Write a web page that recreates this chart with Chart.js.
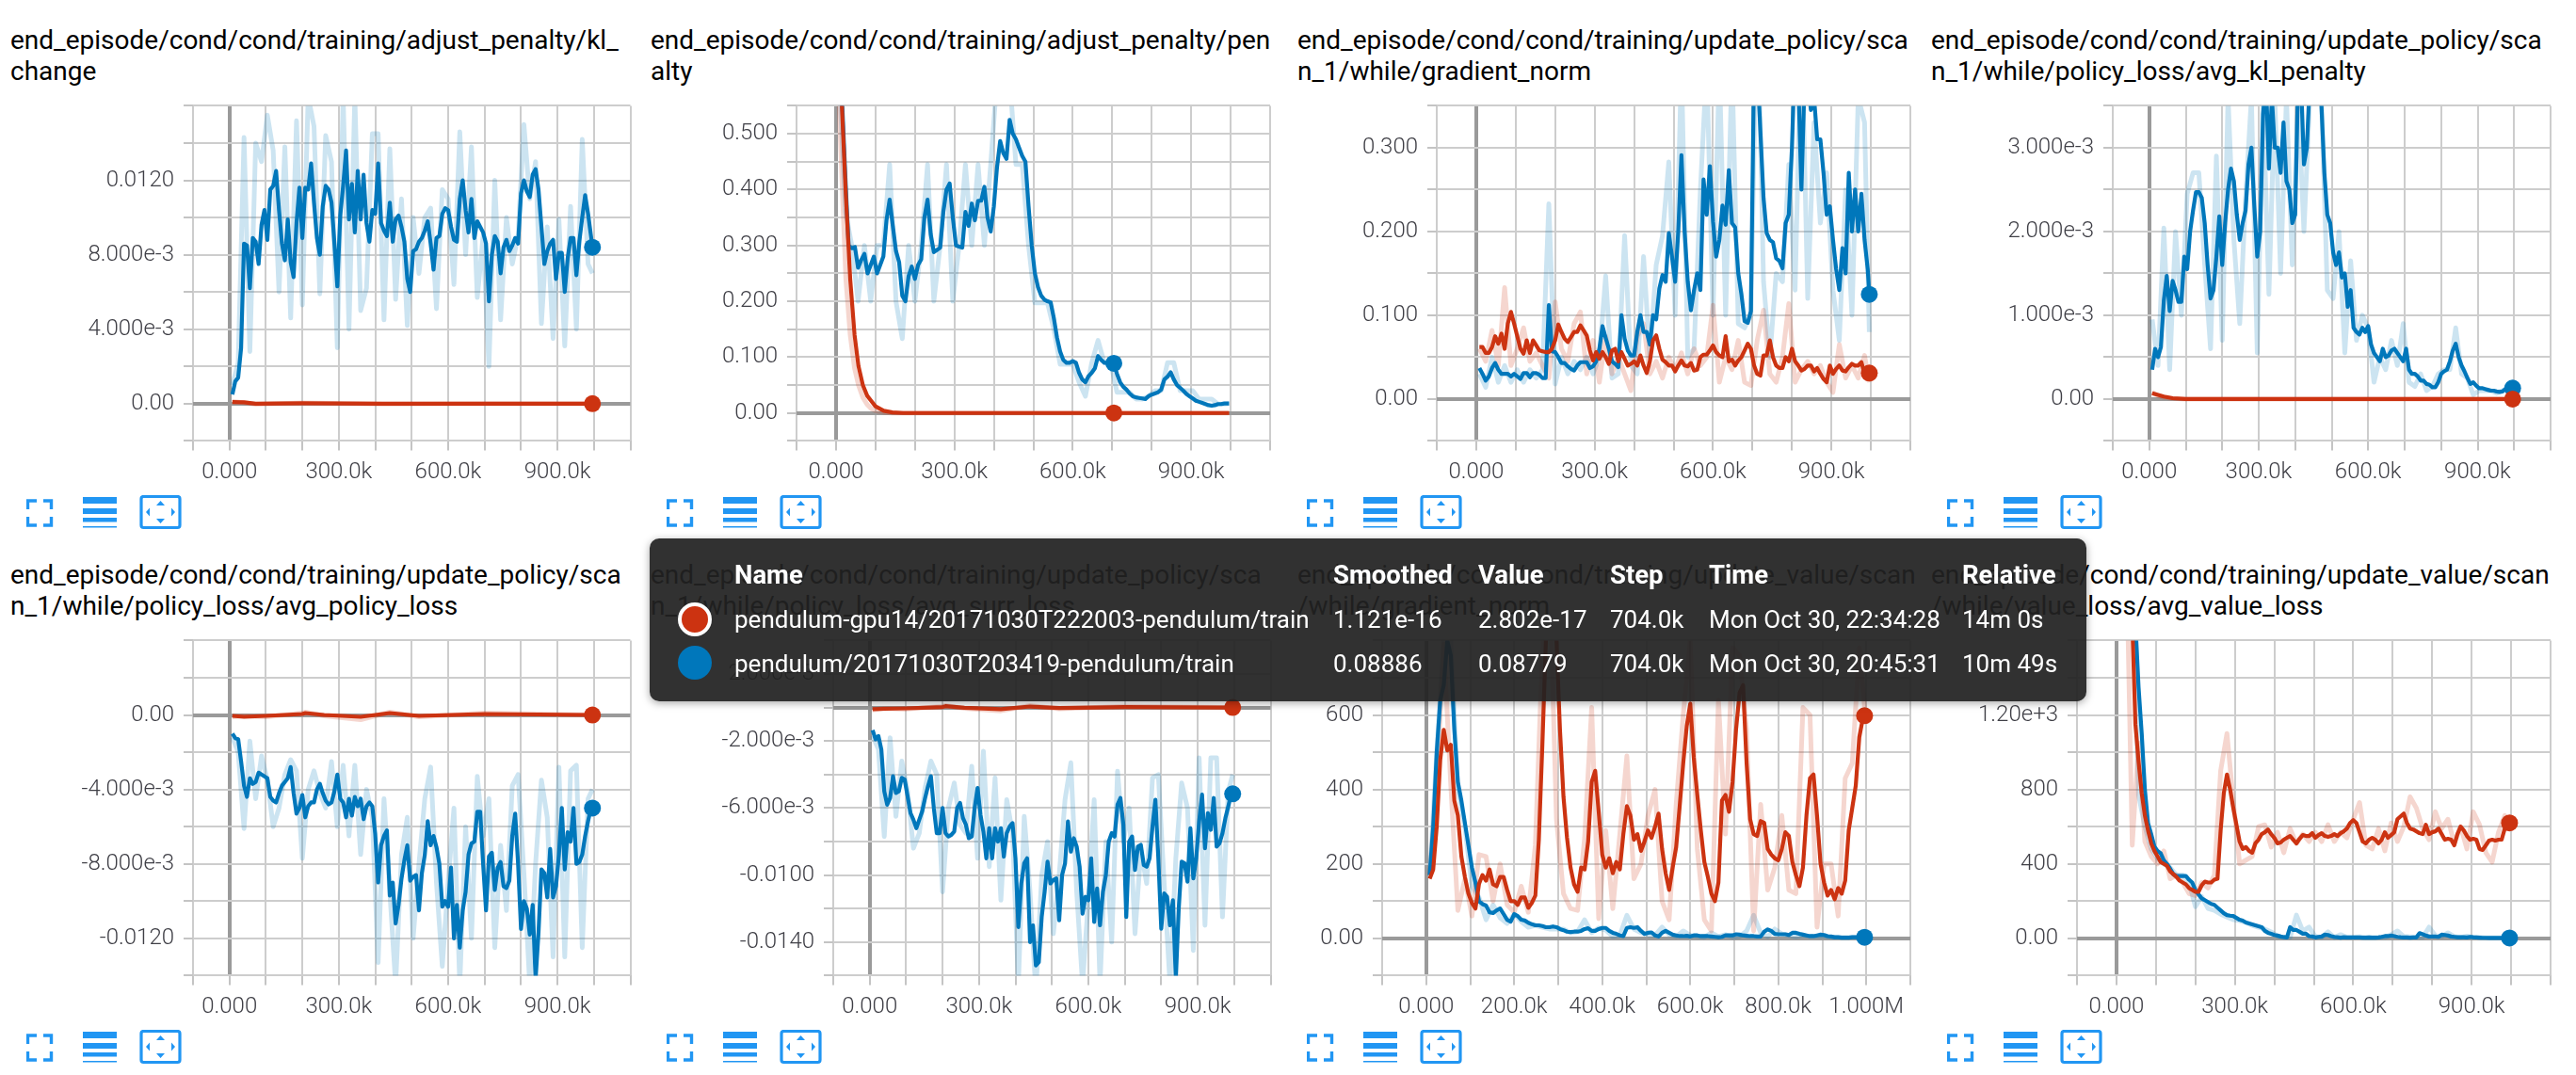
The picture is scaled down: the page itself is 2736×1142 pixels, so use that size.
<!DOCTYPE html>
<html>
<head>
<meta charset="utf-8">
<script src="https://cdn.jsdelivr.net/npm/chart.js@4"></script>
<style>
  html, body { margin: 0; background: #fff; }
  body { position: relative; width: 2736px; height: 1142px; overflow: hidden; font-family: Roboto, sans-serif; }
  canvas { position: absolute; }
  .titulo { position: absolute; font-size: 28px; line-height: 33px; color: #000; white-space: nowrap; }
  .icono { position: absolute; }
  #tip { position: absolute; left: 690px; top: 572px; width: 1526px; height: 173px; border-radius: 10px;
         background: rgba(33,33,33,.93); box-shadow: 0 2px 8px rgba(0,0,0,.35); color: #fff; font-size: 26px; }
  #tip span { position: absolute; white-space: nowrap; line-height: 32px; }
  #tip .cab { font-weight: 700; font-size: 27.5px; }
  #tip i { position: absolute; border-radius: 50%; box-sizing: border-box; }
</style>
</head>
<body>
<div id="tip"></div>
<script>
// ===== Datos =====
const steps = [
  8,16,24,32,40,48,56,64,72,80,88,96,104,112,120,128,136,144,152,160,168,176,184,192,200,
  208,216,224,232,240,248,256,264,272,280,288,296,304,312,320,328,336,344,352,360,368,376,384,392,400,
  408,416,424,432,440,448,456,464,472,480,488,496,504,512,520,528,536,544,552,560,568,576,584,592,600,
  608,616,624,632,640,648,656,664,672,680,688,696,704,712,720,728,736,744,752,760,768,776,784,792,800,
  808,816,824,832,840,848,856,864,872,880,888,896,904,912,920,928,936,944,952,960,968,976,984,992,996
];
const rawSteps = [
  8,24,40,56,72,88,104,120,136,152,
  168,184,200,216,232,248,264,280,296,312,
  328,344,360,376,392,408,424,440,456,472,
  488,504,520,536,552,568,584,600,616,632,
  648,664,680,696,712,728,744,760,776,792,
  808,824,840,856,872,888,904,920,936,952,
  968,984,996
];

// kl_change (unidades de 1e-3)
const klSmoothBlue = [
  0.5,1.2,1.4,3.0,8.6,8.5,6.2,8.9,8.7,7.5,9.6,10.4,8.8,11.5,11.7,12.5,10.4,8.6,7.7,9.9,7.6,6.8,9.7,11.6,8.9,
  11.6,11.5,12.9,10.8,8.9,8.0,10.6,11.7,11.5,10.8,8.6,6.3,10.1,11.7,13.6,9.9,11.8,9.2,12.5,9.9,12.3,9.7,8.7,10.4,10.2,
  12.9,9.7,9.3,9.0,10.8,8.7,9.9,10.1,9.5,8.7,6.7,6.0,8.2,8.3,8.7,8.9,9.3,9.8,8.6,7.2,8.9,9.0,10.2,10.5,10.4,
  9.5,8.8,8.7,11.0,12.0,10.4,9.2,11.0,8.9,9.8,9.5,9.2,8.6,5.5,8.0,9.0,8.7,7.0,8.4,8.8,8.2,8.5,8.9,8.6,11.3,
  12.0,11.4,11.1,12.3,12.6,11.5,9.5,7.5,8.2,8.6,8.8,6.7,8.1,8.1,6.0,7.8,8.9,8.9,6.9,8.7,10.0,11.2,10.2,9.0,8.4
];
const klRawBlue = [
  1.0,2.2,14.3,2.8,14.0,13.0,15.5,13.6,6.0,13.8,
  4.6,15.2,5.3,16.5,14.9,5.9,14.4,13.0,3.0,16.5,
  4.0,16.5,5.0,6.2,14.5,14.5,4.5,13.7,5.6,11.0,
  4.2,10.0,7.0,10.0,10.5,5.1,11.5,11.0,6.4,14.6,
  8.0,13.8,5.7,9.0,2.0,12.0,4.5,10.0,7.5,9.0,
  15.0,11.0,13.0,4.3,9.5,3.5,9.9,3.1,10.6,4.0,
  14.2,7.5,7.0
];
const klStepsRed = [8,40,72,200,420,700,996];
const klSmoothRed = [0.09,0.07,0.0,0.02,0.0,0.0,0.0];
const klRawRed = [0.12,0.05,-0.03,0.04,-0.02,0.0,0.0];

// penalty
const penSmoothBlue = [
  0.65,0.55,0.42,0.30,0.295,0.297,0.26,0.274,0.285,0.25,0.265,0.28,0.25,0.265,0.28,0.345,0.382,0.335,0.29,0.27,0.21,0.2,0.245,0.262,0.24,
  0.265,0.275,0.35,0.382,0.32,0.288,0.292,0.296,0.36,0.40,0.411,0.35,0.3,0.298,0.296,0.36,0.335,0.375,0.345,0.38,0.38,0.405,0.35,0.325,0.37,
  0.44,0.487,0.465,0.455,0.525,0.50,0.49,0.475,0.46,0.45,0.37,0.30,0.25,0.225,0.21,0.203,0.2,0.198,0.17,0.135,0.11,0.095,0.09,0.09,0.093,
  0.09,0.072,0.06,0.055,0.066,0.072,0.08,0.102,0.095,0.09,0.09,0.088,0.089,0.07,0.055,0.047,0.042,0.035,0.03,0.028,0.027,0.026,0.025,0.03,0.033,
  0.035,0.037,0.042,0.06,0.065,0.073,0.06,0.05,0.045,0.04,0.034,0.03,0.026,0.022,0.02,0.018,0.016,0.014,0.013,0.014,0.016,0.016,0.017,0.017,0.017
];
const penRawBlue = [
  0.6,0.36,0.3,0.2,0.3,0.2,0.3,0.3,0.445,0.2,
  0.133,0.3,0.2,0.3,0.445,0.2,0.3,0.445,0.2,0.3,
  0.445,0.3,0.445,0.3,0.445,0.6,0.6,0.6,0.445,0.445,
  0.3,0.197,0.197,0.197,0.15,0.087,0.087,0.087,0.055,0.03,
  0.09,0.13,0.09,0.09,0.037,0.037,0.037,0.025,0.025,0.03,
  0.04,0.04,0.09,0.09,0.04,0.04,0.04,0.025,0.025,0.025,
  0.016,0.016,0.017
];
const penStepsRed = [8,15,25,36,47,57,68,79,89,100,121,143,170,704,996];
const penSmoothRed = [0.7,0.55,0.39,0.24,0.14,0.084,0.05,0.031,0.022,0.012,0.004,0.001,0,0,0];
const penRawRed = [0.55,0.42,0.24,0.14,0.08,0.05,0.028,0.015,0.008,0.004,0.001,0,0,0,0];

// gradient_norm (policy)
const gradSmoothBlue = [
  0.037,0.03,0.022,0.027,0.037,0.043,0.035,0.03,0.03,0.03,0.027,0.03,0.027,0.024,0.031,0.031,0.026,0.031,0.031,0.029,0.025,0.025,0.112,0.057,0.056,
  0.05,0.043,0.043,0.039,0.036,0.034,0.04,0.044,0.044,0.044,0.037,0.039,0.045,0.06,0.087,0.073,0.06,0.045,0.042,0.038,0.1,0.072,0.058,0.052,0.052,
  0.08,0.1,0.08,0.08,0.065,0.1,0.095,0.132,0.148,0.14,0.198,0.17,0.14,0.2,0.291,0.2,0.14,0.106,0.13,0.15,0.13,0.262,0.22,0.278,0.212,
  0.17,0.19,0.231,0.208,0.273,0.21,0.205,0.15,0.125,0.093,0.091,0.105,0.4,0.4,0.32,0.24,0.198,0.19,0.187,0.168,0.165,0.156,0.21,0.22,0.3,
  0.42,0.38,0.25,0.38,0.38,0.345,0.36,0.31,0.31,0.27,0.22,0.23,0.19,0.155,0.13,0.18,0.15,0.27,0.2,0.25,0.2,0.245,0.19,0.155,0.125
];
const gradRawBlue = [
  0.03,0.014,0.05,0.02,0.04,0.02,0.035,0.02,0.035,0.025,
  0.035,0.233,0.018,0.05,0.03,0.045,0.035,0.05,0.03,0.05,
  0.147,0.025,0.03,0.195,0.04,0.03,0.17,0.05,0.16,0.195,
  0.283,0.1,0.4,0.05,0.06,0.25,0.4,0.1,0.4,0.1,
  0.4,0.09,0.085,0.1,0.5,0.14,0.05,0.15,0.14,0.28,
  0.13,0.45,0.12,0.33,0.21,0.27,0.13,0.07,0.25,0.1,
  0.36,0.33,0.08
];
const gradSmoothRed = [
  0.062,0.062,0.055,0.055,0.062,0.075,0.066,0.078,0.06,0.09,0.104,0.09,0.075,0.06,0.054,0.07,0.055,0.07,0.064,0.058,0.057,0.056,0.056,0.06,0.07,
  0.089,0.08,0.072,0.068,0.074,0.08,0.08,0.088,0.082,0.076,0.058,0.046,0.056,0.048,0.056,0.05,0.042,0.058,0.06,0.045,0.056,0.048,0.04,0.042,0.045,
  0.04,0.052,0.04,0.031,0.045,0.07,0.076,0.06,0.047,0.044,0.04,0.04,0.033,0.04,0.046,0.04,0.039,0.043,0.034,0.035,0.05,0.053,0.053,0.058,0.064,
  0.056,0.052,0.05,0.075,0.045,0.047,0.04,0.046,0.05,0.058,0.066,0.06,0.04,0.03,0.028,0.052,0.052,0.07,0.05,0.04,0.037,0.037,0.05,0.045,0.06,
  0.045,0.04,0.034,0.036,0.04,0.04,0.033,0.037,0.03,0.024,0.02,0.04,0.03,0.036,0.04,0.034,0.033,0.038,0.042,0.04,0.04,0.044,0.03,0.03,0.031
];
const gradRawRed = [
  0.06,0.045,0.082,0.04,0.133,0.04,0.06,0.085,0.045,0.055,
  0.04,0.025,0.116,0.06,0.045,0.09,0.104,0.03,0.07,0.02,
  0.075,0.03,0.05,0.03,0.01,0.075,0.09,0.03,0.045,0.025,
  0.05,0.035,0.055,0.03,0.06,0.04,0.05,0.112,0.02,0.05,
  0.035,0.07,0.02,0.016,0.07,0.106,0.03,0.02,0.05,0.114,
  0.02,0.035,0.045,0.03,0.04,0.02,0.008,0.065,0.025,0.04,
  0.025,0.052,0.02
];

// avg_kl_penalty (unidades de 1e-3)
const kpSmoothBlue = [
  0.35,0.6,0.5,0.62,1.18,1.47,1.05,1.41,1.3,1.16,1.16,1.7,1.55,2.0,2.25,2.47,2.47,2.4,2.1,1.6,1.2,1.3,1.7,2.18,1.6,
  2.1,2.5,2.75,2.6,2.2,1.9,2.1,2.25,2.8,3.0,2.3,1.7,2.0,3.4,3.8,2.75,3.6,3.0,3.0,2.7,3.3,2.6,2.5,2.1,2.2,
  3.8,3.8,2.8,3.0,3.8,4.0,4.0,3.9,3.5,2.7,2.2,2.1,1.75,1.6,1.75,1.45,1.5,1.1,1.3,0.85,0.8,0.77,0.85,0.8,0.87,
  0.65,0.55,0.5,0.45,0.6,0.5,0.52,0.58,0.6,0.55,0.5,0.45,0.6,0.35,0.3,0.3,0.27,0.22,0.22,0.18,0.17,0.14,0.14,0.2,0.3,
  0.33,0.35,0.45,0.58,0.66,0.5,0.4,0.33,0.25,0.18,0.2,0.16,0.13,0.13,0.12,0.11,0.1,0.1,0.09,0.085,0.09,0.12,0.13,0.13,0.13
];
const kpRawBlue = [
  0.95,0.4,2.04,0.35,2.0,1.0,2.45,2.7,2.7,1.6,
  0.6,2.9,0.7,3.6,1.9,0.9,2.4,3.6,0.55,3.6,
  1.25,3.6,1.5,3.6,1.6,3.6,2.0,3.6,3.6,3.6,
  1.3,1.2,2.0,0.55,1.65,0.7,1.0,0.85,0.2,0.5,
  0.35,0.7,0.4,0.9,0.2,0.15,0.3,0.1,0.15,0.3,
  0.35,0.35,0.85,0.3,0.25,0.05,0.1,0.1,0.1,0.07,
  0.1,0.12,0.13
];
const kpStepsRed = [8,24,40,64,100,996];
const kpSmoothRed = [0.07,0.05,0.03,0.01,0.001,0];
const kpRawRed = [0.08,0.04,0.02,0.006,0,0];

// avg_policy_loss (unidades de 1e-3)
const plSmoothBlue = [
  -1.0,-1.25,-1.3,-2.5,-3.8,-4.4,-3.4,-3.7,-3.6,-3.1,-3.2,-3.3,-3.4,-4.4,-4.6,-4.7,-4.2,-3.8,-3.6,-3.4,-2.8,-4.2,-5.3,-5.0,-4.3,
  -5.5,-4.9,-4.7,-4.7,-4.0,-3.7,-4.2,-4.6,-4.8,-4.7,-4.1,-3.2,-4.5,-4.7,-5.5,-4.5,-5.4,-4.4,-4.9,-4.5,-5.6,-4.9,-4.7,-4.9,-6.4,
  -9.0,-7.0,-6.5,-6.2,-9.7,-9.0,-11.2,-10.2,-8.8,-7.8,-7.0,-8.9,-8.7,-8.6,-10.5,-8.5,-7.5,-5.7,-7.0,-6.5,-7.1,-8.0,-10.3,-10.0,-10.3,
  -8.2,-12.0,-10.2,-12.5,-10.5,-9.5,-7.5,-6.9,-6.8,-5.2,-5.2,-8.0,-10.5,-7.6,-7.4,-9.4,-8.2,-7.9,-9.2,-9.3,-8.9,-6.5,-5.3,-8.0,-11.5,
  -10.0,-10.4,-11.8,-10.2,-14.2,-11.7,-8.3,-8.5,-9.8,-7.2,-9.8,-9.2,-7.5,-5.0,-8.3,-6.3,-6.8,-5.0,-8.0,-7.9,-7.5,-6.5,-5.7,-5.0,-5.0
];
const plRawBlue = [
  -1.2,-2.0,-6.1,-1.4,-4.5,-2.2,-3.5,-6.0,-5.0,-3.2,
  -2.4,-3.0,-7.7,-4.0,-3.0,-4.2,-5.0,-2.5,-6.0,-2.7,
  -6.5,-2.7,-7.5,-4.0,-5.5,-13.3,-4.5,-9.5,-14.5,-7.5,
  -5.5,-12.0,-8.0,-4.5,-2.8,-9.0,-13.5,-9.0,-5.0,-14.5,
  -6.0,-12.0,-3.3,-6.5,-4.5,-12.5,-7.0,-10.5,-3.8,-3.2,
  -8.5,-14.5,-8.0,-3.5,-5.5,-13.0,-2.8,-13.0,-3.0,-2.7,
  -12.5,-4.5,-4.0
];
const plStepsRed = [8,40,100,200,208,260,360,440,520,700,996];
const plSmoothRed = [-0.05,-0.1,-0.05,0.05,0.1,0,-0.1,0.1,-0.05,0.05,0];
const plRawRed = [-0.1,-0.05,-0.1,0.1,0.15,-0.05,-0.25,0.15,-0.1,0.1,0];

// avg_surr_loss (unidades de 1e-3)
const srSmoothBlue = [
  -1.35,-1.9,-1.7,-2.5,-5.0,-5.8,-5.4,-4.1,-5.1,-5.0,-4.2,-4.3,-5.3,-6.3,-6.7,-7.2,-6.7,-6.2,-5.4,-4.7,-4.1,-6.0,-7.5,-7.5,-6.0,
  -7.5,-7.7,-7.6,-7.4,-6.0,-5.7,-6.6,-7.0,-7.8,-7.7,-6.0,-4.8,-6.4,-7.4,-9.0,-7.2,-9.0,-7.2,-8.0,-7.2,-8.9,-7.5,-7.1,-6.9,-9.0,
  -13.1,-10.5,-9.3,-9.0,-14.0,-13.0,-15.4,-15.2,-12.5,-11.0,-9.2,-10.5,-10.3,-10.2,-12.7,-10.0,-9.3,-6.8,-8.6,-7.8,-8.3,-9.5,-12.3,-11.3,-11.5,
  -9.0,-12.8,-10.8,-13.0,-11.0,-10.0,-8.0,-7.5,-7.7,-5.8,-5.4,-7.0,-12.5,-8.0,-7.7,-9.7,-8.3,-8.2,-9.4,-9.5,-9.0,-7.1,-5.5,-9.0,-13.2,
  -11.1,-11.3,-13.0,-11.5,-16.2,-12.0,-9.2,-9.3,-10.4,-7.2,-10.2,-9.0,-6.8,-5.2,-8.4,-6.3,-7.3,-5.4,-8.3,-8.1,-7.5,-6.6,-5.9,-5.15,-5.15
];
const srRawBlue = [
  -1.7,-2.5,-7.7,-1.8,-6.5,-3.2,-5.0,-8.4,-7.5,-4.8,
  -3.2,-4.0,-11.0,-6.0,-4.5,-7.0,-7.5,-3.5,-9.0,-2.6,
  -9.5,-4.2,-11.5,-5.5,-7.5,-16.5,-6.5,-11.0,-17.0,-10.0,
  -8.0,-13.5,-10.0,-5.5,-3.3,-11.0,-16.5,-11.5,-5.5,-16.5,
  -8.0,-14.0,-3.8,-8.0,-6.0,-13.5,-8.5,-10.5,-4.2,-4.0,
  -10.5,-16.5,-9.0,-4.5,-6.0,-14.5,-3.0,-13.0,-3.0,-3.0,
  -12.5,-5.0,-4.0
];
const srStepsRed = [8,40,100,200,208,260,360,440,520,700,996];
const srSmoothRed = [-0.1,-0.08,-0.05,0.03,0.08,-0.02,-0.1,0.06,-0.03,0.03,0];
const srRawRed = [-0.15,-0.05,-0.1,0.08,0.12,-0.05,-0.2,0.12,-0.08,0.08,0];

// update_value/gradient_norm
const vgSmoothRed = [
  160,185,300,480,560,505,520,370,330,220,165,120,95,80,146,170,155,185,145,140,165,165,130,100,100,
  90,110,110,82,95,115,265,520,800,1000,950,800,560,380,270,190,145,125,190,185,260,420,450,340,225,
  190,215,175,205,185,280,355,330,265,280,235,260,290,270,300,335,240,175,130,190,245,355,470,570,630,
  485,385,290,205,165,120,100,150,370,385,340,420,560,660,680,470,320,280,275,315,310,240,225,215,210,
  240,285,275,205,170,140,190,330,430,440,330,200,150,115,130,105,135,120,155,290,350,410,540,590,598
];
const vgRawRed = [
  170,420,790,410,75,160,60,225,220,100,
  200,90,70,140,70,250,770,1000,320,120,
  80,75,270,620,53,290,80,280,490,160,
  200,330,400,100,50,360,600,800,240,50,
  20,640,280,780,760,560,20,360,130,190,
  330,130,120,620,600,30,200,200,60,430,
  470,780,620
];
const vgSmoothBlue = [
  170,300,500,640,680,800,760,560,420,370,310,250,190,150,100,92,88,70,68,75,80,65,50,45,65,
  60,50,48,42,38,35,35,33,30,30,32,30,25,22,18,17,18,18,20,25,27,20,20,25,28,
  28,20,15,12,8,6,28,30,28,30,20,12,15,16,8,5,15,20,15,10,8,6,6,7,5,
  8,8,6,6,6,5,4,3,4,8,8,8,11,10,8,7,6,6,5,5,18,24,20,12,11,
  11,11,9,15,15,12,10,8,6,6,8,10,9,6,5,3,3,2,2,2,3,3,3,3,3
];
const vgRawBlue = [
  170,500,800,800,400,300,140,110,50,90,
  55,40,65,45,30,35,30,25,25,25,
  15,18,50,15,28,22,5,8,62,25,
  15,10,8,30,10,5,20,8,5,3,
  15,5,10,3,5,20,62,15,5,25,
  12,8,4,8,5,5,5,3,3,3,
  3,3,3
];

// avg_value_loss
const vlSmoothRed = [
  3500,3000,2600,2100,1700,1150,950,780,660,580,510,470,440,410,400,390,360,345,330,310,300,290,270,260,250,
  250,285,305,300,300,315,320,580,780,880,800,700,610,520,480,490,470,460,510,530,560,570,585,560,540,
  510,515,530,540,550,530,510,535,555,550,550,565,540,555,565,550,545,550,560,550,565,575,590,620,635,
  620,570,520,510,530,540,530,510,530,570,540,555,570,640,655,670,620,590,585,575,565,560,610,560,570,
  575,590,560,530,535,530,500,560,600,580,550,530,535,530,480,475,500,525,530,525,530,530,590,620,620
];
const vlRawRed = [
  3600,2200,500,1050,520,440,400,470,320,340,
  300,240,230,300,270,340,900,1100,740,400,
  420,440,600,610,490,570,460,590,510,560,
  520,570,520,610,520,570,540,640,730,500,
  480,590,470,620,520,600,760,700,590,530,
  680,590,640,510,600,480,680,610,460,410,
  570,660,630
];
const vlSmoothBlue = [
  4500,4000,3500,3000,2300,1700,1350,1100,800,620,560,494,470,457,420,400,375,345,335,335,335,335,315,300,260,
  236,215,205,195,185,180,165,150,135,125,122,120,110,100,95,85,80,75,70,65,60,40,30,24,18,
  15,10,7,5,60,45,45,35,25,25,12,10,5,8,10,20,18,12,8,6,4,6,5,5,5,
  5,5,4,4,5,4,4,5,8,12,12,15,12,8,6,5,5,4,5,5,28,22,15,10,10,
  10,8,20,18,15,10,8,6,6,6,5,8,6,5,4,3,3,2,2,2,2,2,2,2,2
];
const vlRawBlue = [
  4500,3200,2000,770,600,480,430,400,380,340,
  340,300,170,225,160,150,130,115,100,95,
  85,70,60,50,35,12,5,5,125,40,
  60,10,5,35,5,20,5,5,8,5,
  5,5,5,20,40,10,8,5,5,60,
  15,10,30,10,5,12,5,5,3,3,
  3,3,3
];

// ===== Ticks =====
const xTickSteps = [0,300,600,900];
const xTickLabels = ["0.000","300.0k","600.0k","900.0k"];
const xTickStepsFine = [0,200,400,600,800,1000];
const xTickLabelsFine = ["0.000","200.0k","400.0k","600.0k","800.0k","1.000M"];

const klTicks = [0,4,8,12];
const klLabels = ["0.00","4.000e-3","8.000e-3","0.0120"];
const penTicks = [0,0.1,0.2,0.3,0.4,0.5];
const penLabels = ["0.00","0.100","0.200","0.300","0.400","0.500"];
const gradTicks = [0,0.1,0.2,0.3];
const gradLabels = ["0.00","0.100","0.200","0.300"];
const kpTicks = [0,1,2,3];
const kpLabels = ["0.00","1.000e-3","2.000e-3","3.000e-3"];
const plTicks = [0,-4,-8,-12];
const plLabels = ["0.00","-4.000e-3","-8.000e-3","-0.0120"];
const srTicks = [2,-2,-6,-10,-14];
const srLabels = ["2.000e-3","-2.000e-3","-6.000e-3","-0.0100","-0.0140"];
const vgTicks = [0,200,400,600];
const vgLabels = ["0.00","200","400","600"];
const vlTicks = [0,400,800,1200];
const vlLabels = ["0.00","400","800","1.20e+3"];

// ===== Tooltip =====
const tipHeaders = ["Name","Smoothed","Value","Step","Time","Relative"];
const tipRedRow = ["pendulum-gpu14/20171030T222003-pendulum/train","1.121e-16","2.802e-17","704.0k","Mon Oct 30, 22:34:28","14m 0s"];
const tipBlueRow = ["pendulum/20171030T203419-pendulum/train","0.08886","0.08779","704.0k","Mon Oct 30, 20:45:31","10m 49s"];
const tipColumns = [90,726,880,1020,1125,1394];

// ===== Paneles =====
const AZUL = "#0077bb", ROJO = "#cc3311";
const AZUL_RAW = "rgba(0,119,187,.2)", ROJO_RAW = "rgba(204,51,17,.2)";

const paneles = [
  { lineas: ["end_episode/cond/cond/training/adjust_penalty/kl_","change"], tx: 11, izq: 204.5, der: 670, fila: 0, ix: 28,
    yMin: -2, yMax: 16, yPaso: 2, yT: klTicks, yL: klLabels,
    azul: [steps, klSmoothBlue, rawSteps, klRawBlue], rojo: [klStepsRed, klSmoothRed, klStepsRed, klRawRed], punto: 996 },
  { lineas: ["end_episode/cond/cond/training/adjust_penalty/pen","alty"], tx: 691, izq: 846, der: 1350, fila: 0, ix: 708,
    yMin: -0.05, yMax: 0.55, yPaso: 0.05, yT: penTicks, yL: penLabels,
    azul: [steps, penSmoothBlue, rawSteps, penRawBlue], rojo: [penStepsRed, penSmoothRed, penStepsRed, penRawRed], punto: 704 },
  { lineas: ["end_episode/cond/cond/training/update_policy/sca","n_1/while/gradient_norm"], tx: 1378, izq: 1526, der: 2030, fila: 0, ix: 1388,
    yMin: -0.05, yMax: 0.35, yPaso: 0.05, yT: gradTicks, yL: gradLabels,
    azul: [steps, gradSmoothBlue, rawSteps, gradRawBlue], rojo: [steps, gradSmoothRed, rawSteps, gradRawRed], punto: 996 },
  { lineas: ["end_episode/cond/cond/training/update_policy/sca","n_1/while/policy_loss/avg_kl_penalty"], tx: 2051, izq: 2244, der: 2710, fila: 0, ix: 2068,
    yMin: -0.5, yMax: 3.5, yPaso: 0.5, yT: kpTicks, yL: kpLabels,
    azul: [steps, kpSmoothBlue, rawSteps, kpRawBlue], rojo: [kpStepsRed, kpSmoothRed, kpStepsRed, kpRawRed], punto: 996 },
  { lineas: ["end_episode/cond/cond/training/update_policy/sca","n_1/while/policy_loss/avg_policy_loss"], tx: 11, izq: 204.5, der: 670, fila: 1, ix: 28,
    yMin: -14, yMax: 4, yPaso: 2, yT: plTicks, yL: plLabels,
    azul: [steps, plSmoothBlue, rawSteps, plRawBlue], rojo: [plStepsRed, plSmoothRed, plStepsRed, plRawRed], punto: 996 },
  { lineas: ["end_episode/cond/cond/training/update_policy/sca","n_1/while/policy_loss/avg_surr_loss"], tx: 691, izq: 884.5, der: 1350, fila: 1, ix: 708,
    yMin: -16, yMax: 4, yPaso: 2, yT: srTicks, yL: srLabels,
    azul: [steps, srSmoothBlue, rawSteps, srRawBlue], rojo: [srStepsRed, srSmoothRed, srStepsRed, srRawRed], punto: 996 },
  { lineas: ["end_episode/cond/cond/training/update_value/scan","/while/gradient_norm"], tx: 1378, izq: 1468, der: 2030, fila: 1, ix: 1388, fino: true,
    yMin: -100, yMax: 800, yPaso: 100, yT: vgTicks, yL: vgLabels,
    azul: [steps, vgSmoothBlue, rawSteps, vgRawBlue], rojo: [steps, vgSmoothRed, rawSteps, vgRawRed], punto: 996 },
  { lineas: ["end_episode/cond/cond/training/update_value/scan","/while/value_loss/avg_value_loss"], tx: 2051, izq: 2206, der: 2710, fila: 1, ix: 2068,
    yMin: -200, yMax: 1600, yPaso: 200, yT: vlTicks, yL: vlLabels,
    azul: [steps, vlSmoothBlue, rawSteps, vlRawBlue], rojo: [steps, vlSmoothRed, rawSteps, vlRawRed], punto: 996 }
];

const PLOT_TOP = 112, PLOT_ALTO = 356, DESPL_FILA = 568;
const ANCHO_Y = 130, ALTO_X = 60, MARGEN = 8;

function unir(xs, ys) {
  return xs.map((x, i) => ({ x, y: ys[i] }));
}

function valorEn(xs, ys, paso) {
  const i = xs.indexOf(paso);
  if (i >= 0) return ys[i];
  return ys[ys.length - 1];
}

function etiqueta(valor, ticks, labels) {
  const i = ticks.findIndex(t => Math.abs(t - valor) < 1e-6);
  return i >= 0 ? labels[i] : "";
}

// ===== Iconos =====
function iconos(x, y) {
  const c = "#2196f3";
  const svg = `
  <svg class="icono" style="left:${x}px;top:${y}px" width="170" height="38" viewBox="0 0 170 38" fill="none">
    <path d="M1.5 15 V6 H11 M18 6 H26.5 V15 M1.5 23 V32 H11 M18 32 H26.5 V23" stroke="${c}" stroke-width="3.4"/>
    <rect x="60" y="2" width="36" height="7" fill="${c}"/>
    <rect x="60" y="14" width="36" height="6" fill="${c}"/>
    <rect x="60" y="24" width="36" height="4.5" fill="${c}"/>
    <rect x="60" y="33" width="36" height="1.5" fill="${c}"/>
    <rect x="122" y="1.5" width="41" height="33" rx="2.5" stroke="${c}" stroke-width="3.2"/>
    <path d="M142.5 6 L147 11 H138 Z M142.5 30 L147 25 H138 Z M127 18 L131 13.5 V22.5 Z M158 18 L154 13.5 V22.5 Z" fill="${c}"/>
  </svg>`;
  document.body.insertAdjacentHTML("beforeend", svg);
}

// ===== Graficos =====
function dibujarPanel(p) {
  const top = PLOT_TOP + p.fila * DESPL_FILA;
  const ancho = p.der - p.izq;

  const titulo = document.createElement("div");
  titulo.className = "titulo";
  titulo.style.left = p.tx + "px";
  titulo.style.top = (top - 86) + "px";
  titulo.innerHTML = p.lineas.join("<br>");
  document.body.appendChild(titulo);

  iconos(p.ix, 526 + p.fila * DESPL_FILA);

  const canvas = document.createElement("canvas");
  const anchoCanvas = ancho + ANCHO_Y + MARGEN;
  canvas.style.left = (p.izq - ANCHO_Y) + "px";
  canvas.style.top = (top - MARGEN) + "px";
  canvas.style.width = anchoCanvas + "px";
  canvas.style.height = (PLOT_ALTO + MARGEN + ALTO_X) + "px";
  canvas.width = anchoCanvas;
  canvas.height = PLOT_ALTO + MARGEN + ALTO_X;
  document.body.appendChild(canvas);

  const xT = p.fino ? xTickStepsFine : xTickSteps;
  const xL = p.fino ? xTickLabelsFine : xTickLabels;
  const esCero = ctx => Math.abs(ctx.tick.value) < 1e-6;

  const rejilla = {
    color: ctx => esCero(ctx) ? "#9a9a9a" : "#cdcdcd",
    lineWidth: ctx => esCero(ctx) ? 4 : 2,
    tickLength: 10,
    tickColor: "#c4c4c4",
    tickWidth: 2
  };
  const fuente = { family: "Roboto", size: 24, weight: "300" };

  const chart = new Chart(canvas, {
    type: "line",
    data: {
      datasets: [
        { data: [{ x: p.punto, y: valorEn(p.rojo[0], p.rojo[1], p.punto) }], pointRadius: 9, pointBackgroundColor: ROJO, pointBorderWidth: 0, showLine: false },
        { data: [{ x: p.punto, y: valorEn(p.azul[0], p.azul[1], p.punto) }], pointRadius: 9, pointBackgroundColor: AZUL, pointBorderWidth: 0, showLine: false },
        { data: unir(p.rojo[0], p.rojo[1]), borderColor: ROJO, borderWidth: 4.2 },
        { data: unir(p.azul[0], p.azul[1]), borderColor: AZUL, borderWidth: 4.2 },
        { data: unir(p.rojo[2], p.rojo[3]), borderColor: ROJO_RAW, borderWidth: 5 },
        { data: unir(p.azul[2], p.azul[3]), borderColor: AZUL_RAW, borderWidth: 5 }
      ]
    },
    options: {
      responsive: false,
      maintainAspectRatio: false,
      animation: false,
      events: [],
      layout: { autoPadding: false, padding: { top: MARGEN, right: MARGEN } },
      elements: { point: { radius: 0 }, line: { tension: 0, borderJoinStyle: "round" } },
      plugins: { legend: { display: false }, tooltip: { enabled: false } },
      scales: {
        x: {
          type: "linear", min: -100, max: 1100,
          afterFit: s => { s.height = ALTO_X; },
          border: { display: false },
          grid: rejilla,
          ticks: {
            stepSize: 100, autoSkip: false, maxRotation: 0, padding: 9,
            color: "#3f3f46", font: fuente,
            callback: v => etiqueta(v, xT, xL)
          }
        },
        y: {
          min: p.yMin, max: p.yMax,
          afterFit: s => { s.width = ANCHO_Y; },
          border: { display: false },
          grid: rejilla,
          ticks: {
            stepSize: p.yPaso, autoSkip: false, padding: 10,
            color: "#3f3f46", font: fuente,
            callback: v => etiqueta(v, p.yT, p.yL)
          }
        }
      }
    }
  });

  // la escala reserva algo mas arriba de lo pedido: se corrige moviendo el canvas
  const arriba = chart.chartArea.top;
  canvas.style.top = (top - arriba) + "px";
  chart.resize(anchoCanvas, arriba + PLOT_ALTO + ALTO_X);
}

paneles.forEach(dibujarPanel);

// ===== Tooltip fijo =====
function dibujarTip() {
  const tip = document.getElementById("tip");
  document.body.appendChild(tip);
  const fila = (textos, y, cls) => textos.forEach((t, i) => {
    const s = document.createElement("span");
    s.textContent = t;
    s.style.left = tipColumns[i] + "px";
    s.style.top = y + "px";
    if (cls) s.className = cls;
    tip.appendChild(s);
  });
  fila(tipHeaders, 23, "cab");
  fila(tipRedRow, 70, "");
  fila(tipBlueRow, 117, "");
  tip.insertAdjacentHTML("beforeend",
    `<i style="left:30px;top:68px;width:36px;height:36px;background:${ROJO};border:4px solid #fff"></i>
     <i style="left:30px;top:114px;width:36px;height:36px;background:${AZUL}"></i>`);
}
dibujarTip();
</script>
</body>
</html>
